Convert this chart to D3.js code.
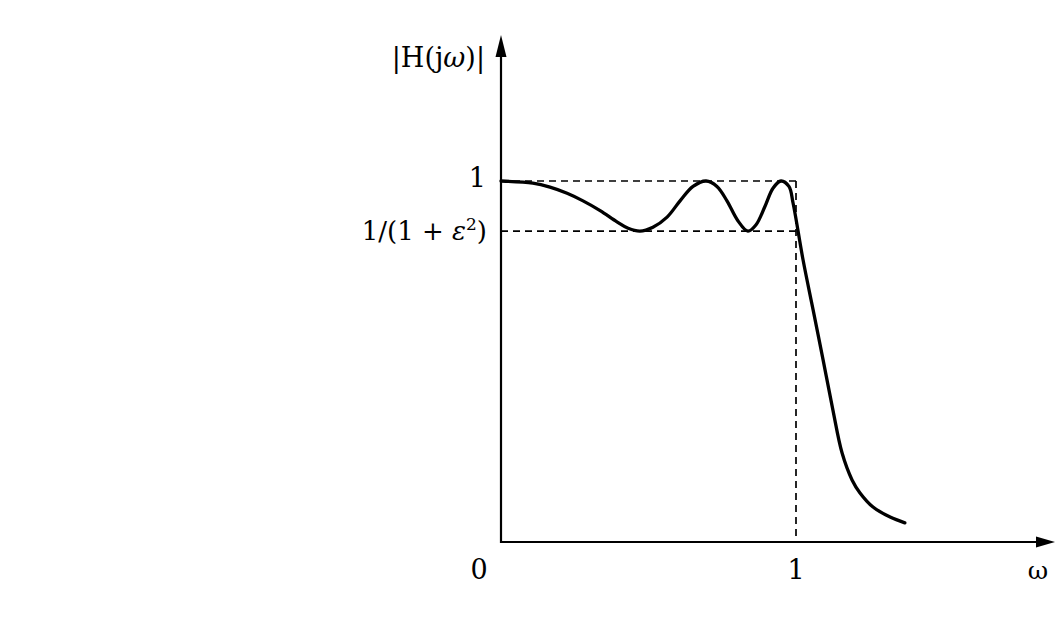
<!DOCTYPE html>
<html>
<head>
<meta charset="utf-8">
<script src="https://cdn.jsdelivr.net/npm/d3@7"></script>
<style>
  body { margin: 0; background: #fff; }
  svg text { font-family: "DejaVu Serif", "Liberation Serif", serif; fill: #000; }
</style>
</head>
<body>
<div id="chart"></div>
<script>
// frequency (omega) and magnitude |H(jw)|
const omega = [0, 0.108, 0.166, 0.224, 0.278, 0.336, 0.393, 0.431, 0.471, 0.515, 0.563, 0.607, 0.651, 0.695,
  0.732, 0.766, 0.803, 0.837, 0.864, 0.895, 0.922, 0.949, 0.976, 0.99, 1.024, 1.058,
  1.092, 1.125, 1.156, 1.19, 1.217, 1.261, 1.319, 1.369];
const magnitude = [1, 0.994, 0.983, 0.966, 0.945, 0.918, 0.887, 0.869, 0.861, 0.872, 0.900, 0.945, 0.985, 1,
  0.985, 0.945, 0.890, 0.861, 0.878, 0.930, 0.980, 1, 0.985, 0.939, 0.781, 0.643,
  0.504, 0.366, 0.247, 0.172, 0.136, 0.097, 0.069, 0.053];
const passbandTop = 1;
const passbandBottom = 0.861;
const cutoff = 1;
const xTicks = ["0", "1"];

(function() {
    const width = 1059, height = 641;
    const svg = d3.select("#chart").append("svg")
        .attr("width", width)
        .attr("height", height);

    // scales: 0 -> 501px, 1 -> 796px horizontally; 0 -> 542px, 1 -> 181px vertically
    const x = d3.scaleLinear().domain([0, 1]).range([501, 796]);
    const y = d3.scaleLinear().domain([0, 1]).range([542, 181]);
    const xMax = x.invert(1055);
    const yMax = y.invert(35);

    const data = omega.map((w, i) => ({w: w, m: magnitude[i]}));

    // dashed guides
    const dash = "7,5";
    [passbandTop, passbandBottom].forEach(v => {
        svg.append("line")
            .attr("x1", x(0)).attr("x2", x(cutoff))
            .attr("y1", y(v)).attr("y2", y(v))
            .attr("stroke", "#000").attr("stroke-width", 1.7)
            .attr("stroke-dasharray", dash);
    });
    svg.append("line")
        .attr("x1", x(cutoff)).attr("x2", x(cutoff))
        .attr("y1", y(passbandTop)).attr("y2", y(0))
        .attr("stroke", "#000").attr("stroke-width", 1.7)
        .attr("stroke-dasharray", dash);

    // axes
    svg.append("line")
        .attr("x1", x(0)).attr("x2", x(xMax) - 16)
        .attr("y1", y(0)).attr("y2", y(0))
        .attr("stroke", "#000").attr("stroke-width", 2.2);
    svg.append("line")
        .attr("x1", x(0)).attr("x2", x(0))
        .attr("y1", y(0) + 1.1).attr("y2", y(yMax) + 16)
        .attr("stroke", "#000").attr("stroke-width", 2.2);

    // arrow heads
    svg.append("path")
        .attr("d", `M${x(xMax)},${y(0)} L${x(xMax) - 19},${y(0) - 5.5} L${x(xMax) - 19},${y(0) + 5.5} Z`)
        .attr("fill", "#000");
    svg.append("path")
        .attr("d", `M${x(0)},${y(yMax)} L${x(0) - 5.5},${y(yMax) + 22} L${x(0) + 5.5},${y(yMax) + 22} Z`)
        .attr("fill", "#000");

    // response curve
    const line = d3.line()
        .x(d => x(d.w))
        .y(d => y(d.m))
        .curve(d3.curveCatmullRom.alpha(0.5));
    svg.append("path")
        .datum(data)
        .attr("d", line)
        .attr("fill", "none")
        .attr("stroke", "#000")
        .attr("stroke-width", 3.3)
        .attr("stroke-linejoin", "round")
        .attr("stroke-linecap", "round");

    // x tick labels
    svg.selectAll(".xtick")
        .data(xTicks)
        .enter()
        .append("text")
        .attr("class", "xtick")
        .attr("x", d => x(+d) - (d === "0" ? 22 : 0))
        .attr("y", 579)
        .attr("text-anchor", "middle")
        .style("font-size", "27px")
        .text(d => d);

    svg.append("text")
        .attr("x", 1038)
        .attr("y", 579)
        .attr("text-anchor", "middle")
        .style("font-size", "25px")
        .text("\u03c9");

    // y labels
    svg.append("text")
        .attr("x", 486)
        .attr("y", 187)
        .attr("text-anchor", "end")
        .style("font-size", "27px")
        .text("1");

    const eps = svg.append("text")
        .attr("x", 487)
        .attr("y", 240)
        .attr("text-anchor", "end")
        .style("font-size", "26px");
    eps.append("tspan").text("1/(1 + ");
    eps.append("tspan").style("font-style", "italic").text("\u03b5");
    eps.append("tspan").attr("dy", -10).style("font-size", "17px").text("2");
    eps.append("tspan").attr("dy", 10).text(")");

    const hl = svg.append("text")
        .attr("x", 485)
        .attr("y", 67)
        .attr("text-anchor", "end")
        .style("font-size", "27px");
    hl.append("tspan").text("|H(j");
    hl.append("tspan").style("font-style", "italic").text("\u03c9");
    hl.append("tspan").text(")|");
})();
</script>
</body>
</html>
